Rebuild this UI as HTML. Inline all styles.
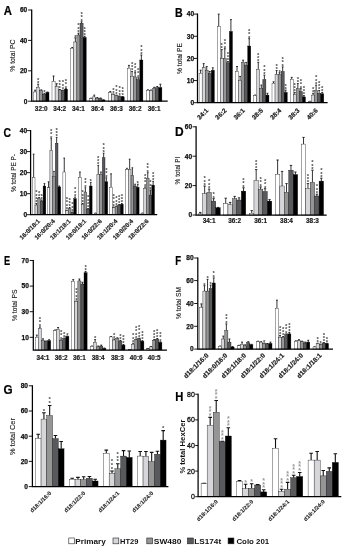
<!DOCTYPE html>
<html lang="en"><head><meta charset="utf-8"><title>Figure</title>
<style>
html,body{margin:0;padding:0;background:#fff}
body{width:346px;height:550px;overflow:hidden}
svg{display:block;font-family:"Liberation Sans",Arial,sans-serif}
.pl{font-size:12.2px;font-weight:bold;fill:#000;stroke:#000;stroke-width:.2}
.b{stroke:#000;stroke-width:.35}
.eb2{stroke:#111;stroke-width:1.1;fill:none}
.eb{stroke:#111;stroke-width:.85;fill:none}
.ax{stroke:#000;stroke-width:1.25;fill:none;stroke-linejoin:miter}
.tk{stroke:#000;stroke-width:.9;fill:none}
.tln{fill:#111;stroke:#111;stroke-width:.3}
.tl{font-weight:bold;fill:#111;stroke:#111;stroke-width:.25}
.xl2{font-weight:bold;fill:#222;stroke:#222;stroke-width:.1}
.xl{font-size:6.4px;font-weight:bold;fill:#222;stroke:#222;stroke-width:.2}
.yl{fill:#222;stroke:#222;stroke-width:.12}
.ylb{font-weight:bold;fill:#111}
.st3{font-size:7px;font-weight:bold;fill:#444;text-anchor:middle}
.st2{font-size:7px;font-weight:bold;fill:#999;text-anchor:middle}
.st{font-size:6px;font-weight:bold;fill:#444;text-anchor:middle}
.lg{stroke:#222;stroke-width:.6}
.lt{font-size:8px;font-weight:bold;fill:#111}
</style></head><body>
<svg width="346" height="550" viewBox="0 0 346 550">
<rect width="346" height="550" fill="#fff"/>
<g class="panel">
<text class="pl" transform="translate(3.72 14.7) scale(0.93 1)">A</text>
<path class="eb" d="M35.05 92V90.2M34.09 90.2H36.01"/>
<rect class="b" x="33.5" y="92" width="3.1" height="9.2" fill="#ffffff"/>
<path class="eb" d="M38.15 87.3V84.2M37.19 84.2H39.11"/>
<rect class="b" x="36.6" y="87.3" width="3.1" height="13.9" fill="#d6d6da"/>
<text class="st" x="38.15" y="85">*</text>
<text class="st" x="38.15" y="81.7">*</text>
<path class="eb" d="M41.25 90.6V89.9M40.29 89.9H42.21"/>
<rect class="b" x="39.7" y="90.6" width="3.1" height="10.6" fill="#949594"/>
<path class="eb" d="M44.35 94.2V93.3M43.39 93.3H45.31"/>
<rect class="b" x="42.8" y="94.2" width="3.1" height="7" fill="#58595c"/>
<text class="st" x="44.35" y="94.1">*</text>
<path class="eb" d="M47.45 92.4V92M46.49 92H48.41"/>
<rect class="b" x="45.9" y="92.4" width="3.1" height="8.8" fill="#000000"/>
<text class="xl" text-anchor="middle" x="41.25" y="111.1">32:0</text>
<path class="eb" d="M53.55 81.5V76M52.59 76H54.51"/>
<rect class="b" x="52" y="81.5" width="3.1" height="19.7" fill="#ffffff"/>
<path class="eb" d="M56.65 86.6V83.7M55.69 83.7H57.61"/>
<rect class="b" x="55.1" y="86.6" width="3.1" height="14.6" fill="#d6d6da"/>
<path class="eb" d="M59.75 89.9V89.5M58.79 89.5H60.71"/>
<rect class="b" x="58.2" y="89.9" width="3.1" height="11.3" fill="#949594"/>
<text class="st" x="59.75" y="90.3">*</text>
<text class="st" x="59.75" y="87">*</text>
<text class="st" x="59.75" y="83.7">*</text>
<path class="eb" d="M62.85 90.6V90.2M61.89 90.2H63.81"/>
<rect class="b" x="61.3" y="90.6" width="3.1" height="10.6" fill="#58595c"/>
<text class="st" x="62.85" y="91">*</text>
<text class="st" x="62.85" y="87.7">*</text>
<text class="st" x="62.85" y="84.4">*</text>
<path class="eb" d="M65.95 89.1V88.7M64.99 88.7H66.91"/>
<rect class="b" x="64.4" y="89.1" width="3.1" height="12.1" fill="#000000"/>
<text class="st" x="65.95" y="89.5">*</text>
<text class="st" x="65.95" y="86.2">*</text>
<text class="st" x="65.95" y="82.9">*</text>
<text class="xl" text-anchor="middle" x="59.75" y="111.1">34:2</text>
<path class="eb" d="M72.25 48.2V47.5M71.29 47.5H73.21"/>
<rect class="b" x="70.7" y="48.2" width="3.1" height="53" fill="#ffffff"/>
<path class="eb" d="M75.35 42V37.8M74.39 37.8H76.31"/>
<rect class="b" x="73.8" y="42" width="3.1" height="59.2" fill="#d6d6da"/>
<text class="st" x="75.35" y="38.6">*</text>
<path class="eb" d="M78.45 35V33.2M77.49 33.2H79.41"/>
<rect class="b" x="76.9" y="35" width="3.1" height="66.2" fill="#949594"/>
<text class="st" x="78.45" y="34">*</text>
<text class="st" x="78.45" y="30.7">*</text>
<text class="st" x="78.45" y="27.4">*</text>
<path class="eb" d="M81.55 23.2V21.8M80.59 21.8H82.51"/>
<rect class="b" x="80" y="23.2" width="3.1" height="78" fill="#58595c"/>
<text class="st" x="81.55" y="22.6">*</text>
<text class="st" x="81.55" y="19.3">*</text>
<text class="st" x="81.55" y="16">*</text>
<path class="eb" d="M84.65 37.4V36.3M83.69 36.3H85.61"/>
<rect class="b" x="83.1" y="37.4" width="3.1" height="63.8" fill="#000000"/>
<text class="st" x="84.65" y="37.1">*</text>
<text class="st" x="84.65" y="33.8">*</text>
<text class="st" x="84.65" y="30.5">*</text>
<text class="xl" text-anchor="middle" x="78.45" y="111.1">34:1</text>
<path class="eb" d="M91.15 98.7V98.2M90.19 98.2H92.11"/>
<rect class="b" x="89.6" y="98.7" width="3.1" height="2.5" fill="#ffffff"/>
<path class="eb" d="M94.25 96.9V95.1M93.29 95.1H95.21"/>
<rect class="b" x="92.7" y="96.9" width="3.1" height="4.3" fill="#d6d6da"/>
<path class="eb" d="M97.35 98.2V97.5M96.39 97.5H98.31"/>
<rect class="b" x="95.8" y="98.2" width="3.1" height="3" fill="#949594"/>
<path class="eb" d="M100.45 98.4V98M99.49 98H101.41"/>
<rect class="b" x="98.9" y="98.4" width="3.1" height="2.8" fill="#58595c"/>
<path class="eb" d="M103.55 100V99.8M102.59 99.8H104.51"/>
<rect class="b" x="102" y="100" width="3.1" height="1.2" fill="#000000"/>
<text class="xl" text-anchor="middle" x="97.35" y="111.1">36:4</text>
<path class="eb" d="M110.25 92.7V91.5M109.29 91.5H111.21"/>
<rect class="b" x="108.7" y="92.7" width="3.1" height="8.5" fill="#ffffff"/>
<path class="eb" d="M113.35 94.6V94M112.39 94H114.31"/>
<rect class="b" x="111.8" y="94.6" width="3.1" height="6.6" fill="#d6d6da"/>
<text class="st" x="113.35" y="94.8">*</text>
<text class="st" x="113.35" y="91.5">*</text>
<path class="eb" d="M116.45 95.6V95.2M115.49 95.2H117.41"/>
<rect class="b" x="114.9" y="95.6" width="3.1" height="5.6" fill="#949594"/>
<text class="st" x="116.45" y="96">*</text>
<text class="st" x="116.45" y="92.7">*</text>
<text class="st" x="116.45" y="89.4">*</text>
<path class="eb" d="M119.55 96.4V96M118.59 96H120.51"/>
<rect class="b" x="118" y="96.4" width="3.1" height="4.8" fill="#58595c"/>
<text class="st" x="119.55" y="96.8">*</text>
<text class="st" x="119.55" y="93.5">*</text>
<text class="st" x="119.55" y="90.2">*</text>
<path class="eb" d="M122.65 96.9V96.5M121.69 96.5H123.61"/>
<rect class="b" x="121.1" y="96.9" width="3.1" height="4.3" fill="#000000"/>
<text class="st" x="122.65" y="97.3">*</text>
<text class="st" x="122.65" y="94">*</text>
<text class="st" x="122.65" y="90.7">*</text>
<text class="xl" text-anchor="middle" x="116.45" y="111.1">36:3</text>
<path class="eb" d="M128.95 68.2V65.4M127.99 65.4H129.91"/>
<rect class="b" x="127.4" y="68.2" width="3.1" height="33" fill="#ffffff"/>
<path class="eb" d="M132.05 76.3V71.4M131.09 71.4H133.01"/>
<rect class="b" x="130.5" y="76.3" width="3.1" height="24.9" fill="#d6d6da"/>
<text class="st" x="132.05" y="72.2">*</text>
<text class="st" x="132.05" y="68.9">*</text>
<text class="st" x="132.05" y="65.6">*</text>
<path class="eb" d="M135.15 76.9V72.7M134.19 72.7H136.11"/>
<rect class="b" x="133.6" y="76.9" width="3.1" height="24.3" fill="#949594"/>
<text class="st" x="135.15" y="73.5">*</text>
<text class="st" x="135.15" y="70.2">*</text>
<text class="st" x="135.15" y="66.9">*</text>
<path class="eb" d="M138.25 79.6V77.8M137.29 77.8H139.21"/>
<rect class="b" x="136.7" y="79.6" width="3.1" height="21.6" fill="#58595c"/>
<text class="st" x="138.25" y="78.6">*</text>
<text class="st" x="138.25" y="75.3">*</text>
<text class="st" x="138.25" y="72">*</text>
<path class="eb" d="M141.35 60V55M140.39 55H142.31"/>
<rect class="b" x="139.8" y="60" width="3.1" height="41.2" fill="#000000"/>
<text class="st" x="141.35" y="55.8">*</text>
<text class="st" x="141.35" y="52.5">*</text>
<text class="st" x="141.35" y="49.2">*</text>
<text class="xl" text-anchor="middle" x="135.15" y="111.1">36:2</text>
<path class="eb" d="M147.95 90.2V89.8M146.99 89.8H148.91"/>
<rect class="b" x="146.4" y="90.2" width="3.1" height="11" fill="#ffffff"/>
<path class="eb" d="M151.05 90.5V90M150.09 90H152.01"/>
<rect class="b" x="149.5" y="90.5" width="3.1" height="10.7" fill="#d6d6da"/>
<path class="eb" d="M154.15 88.7V87.3M153.19 87.3H155.11"/>
<rect class="b" x="152.6" y="88.7" width="3.1" height="12.5" fill="#949594"/>
<path class="eb" d="M157.25 87.8V86.5M156.29 86.5H158.21"/>
<rect class="b" x="155.7" y="87.8" width="3.1" height="13.4" fill="#58595c"/>
<path class="eb" d="M160.35 87.5V84.2M159.39 84.2H161.31"/>
<rect class="b" x="158.8" y="87.5" width="3.1" height="13.7" fill="#000000"/>
<text class="xl" text-anchor="middle" x="154.15" y="111.1">36:1</text>
<path class="ax" d="M31.7 9.5V101.2H167.7"/>
<path class="tk" d="M28.1 10H31.7"/>
<text class="tl" style="font-size:6.6px" text-anchor="end" x="27.3" y="12.38">60</text>
<path class="tk" d="M28.1 40.4H31.7"/>
<text class="tl" style="font-size:6.6px" text-anchor="end" x="27.3" y="42.78">40</text>
<path class="tk" d="M28.1 70.8H31.7"/>
<text class="tl" style="font-size:6.6px" text-anchor="end" x="27.3" y="73.18">20</text>
<path class="tk" d="M28.1 101.2H31.7"/>
<text class="tl" style="font-size:6.6px" text-anchor="end" x="27.3" y="103.58">0</text>
<text class="yl" style="font-size:6.9px" textLength="32.3" lengthAdjust="spacingAndGlyphs" transform="translate(14.98 71.85) rotate(-90)">% total PC</text>
</g>
<g class="panel">
<text class="pl" transform="translate(174.99 16.7) scale(0.87 1)">B</text>
<path class="eb" d="M200.62 73.3V70.2M199.68 70.2H201.57"/>
<rect class="b" x="199.1" y="73.3" width="3.05" height="29.4" fill="#ffffff"/>
<path class="eb" d="M203.68 67.8V63.6M202.73 63.6H204.62"/>
<rect class="b" x="202.15" y="67.8" width="3.05" height="34.9" fill="#d6d6da"/>
<path class="eb" d="M206.72 70.2V66.5M205.78 66.5H207.67"/>
<rect class="b" x="205.2" y="70.2" width="3.05" height="32.5" fill="#949594"/>
<path class="eb" d="M209.78 73.3V71.5M208.83 71.5H210.72"/>
<rect class="b" x="208.25" y="73.3" width="3.05" height="29.4" fill="#58595c"/>
<path class="eb" d="M212.82 70.2V67.8M211.88 67.8H213.77"/>
<rect class="b" x="211.3" y="70.2" width="3.05" height="32.5" fill="#000000"/>
<text class="xl" style="font-size:6.4px" text-anchor="end" transform="translate(208.82 110.9) rotate(-45)">34:1</text>
<path class="eb" d="M218.72 26.5V14.1M217.78 14.1H219.67"/>
<rect class="b" x="217.2" y="26.5" width="3.05" height="76.2" fill="#ffffff"/>
<path class="eb" d="M221.78 58.7V49.6M220.83 49.6H222.72"/>
<rect class="b" x="220.25" y="58.7" width="3.05" height="44" fill="#d6d6da"/>
<text class="st" x="221.78" y="50.4">*</text>
<text class="st" x="221.78" y="47.1">*</text>
<path class="eb" d="M224.82 58.7V48.7M223.88 48.7H225.77"/>
<rect class="b" x="223.3" y="58.7" width="3.05" height="44" fill="#949594"/>
<text class="st" x="224.82" y="49.5">*</text>
<text class="st" x="224.82" y="46.2">*</text>
<text class="st" x="224.82" y="42.9">*</text>
<path class="eb" d="M227.88 62.9V61.5M226.93 61.5H228.82"/>
<rect class="b" x="226.35" y="62.9" width="3.05" height="39.8" fill="#58595c"/>
<text class="st" x="227.88" y="62.3">*</text>
<text class="st" x="227.88" y="59">*</text>
<text class="st" x="227.88" y="55.7">*</text>
<path class="eb" d="M230.92 31.4V19.6M229.98 19.6H231.87"/>
<rect class="b" x="229.4" y="31.4" width="3.05" height="71.3" fill="#000000"/>
<text class="xl" style="font-size:6.4px" text-anchor="end" transform="translate(226.92 110.9) rotate(-45)">36:2</text>
<path class="eb" d="M237.03 71.5V66.5M236.08 66.5H237.97"/>
<rect class="b" x="235.5" y="71.5" width="3.05" height="31.2" fill="#ffffff"/>
<path class="eb" d="M240.08 80.6V76.4M239.13 76.4H241.02"/>
<rect class="b" x="238.55" y="80.6" width="3.05" height="22.1" fill="#d6d6da"/>
<path class="eb" d="M243.12 62.4V60.2M242.18 60.2H244.07"/>
<rect class="b" x="241.6" y="62.4" width="3.05" height="40.3" fill="#949594"/>
<path class="eb" d="M246.18 65.1V62.4M245.23 62.4H247.12"/>
<rect class="b" x="244.65" y="65.1" width="3.05" height="37.6" fill="#58595c"/>
<path class="eb" d="M249.22 46V38.7M248.28 38.7H250.17"/>
<rect class="b" x="247.7" y="46" width="3.05" height="56.7" fill="#000000"/>
<text class="st" x="249.22" y="39.5">*</text>
<text class="st" x="249.22" y="36.2">*</text>
<text class="st" x="249.22" y="32.9">*</text>
<text class="xl" style="font-size:6.4px" text-anchor="end" transform="translate(245.22 110.9) rotate(-45)">36:1</text>
<path class="eb" d="M255.22 95.6V95M254.28 95H256.17"/>
<rect class="b" x="253.7" y="95.6" width="3.05" height="7.1" fill="#ffffff"/>
<path class="eb" d="M258.27 69.2V62.3M257.33 62.3H259.22"/>
<rect class="b" x="256.75" y="69.2" width="3.05" height="33.5" fill="#d6d6da"/>
<text class="st" x="258.27" y="63.1">*</text>
<text class="st" x="258.27" y="59.8">*</text>
<text class="st" x="258.27" y="56.5">*</text>
<path class="eb" d="M261.32 88.4V85.1M260.38 85.1H262.27"/>
<rect class="b" x="259.8" y="88.4" width="3.05" height="14.3" fill="#949594"/>
<path class="eb" d="M264.37 79.6V75.1M263.43 75.1H265.32"/>
<rect class="b" x="262.85" y="79.6" width="3.05" height="23.1" fill="#58595c"/>
<text class="st" x="264.37" y="75.9">*</text>
<text class="st" x="264.37" y="72.6">*</text>
<text class="st" x="264.37" y="69.3">*</text>
<path class="eb" d="M267.42 95.1V93.3M266.48 93.3H268.37"/>
<rect class="b" x="265.9" y="95.1" width="3.05" height="7.6" fill="#000000"/>
<text class="xl" style="font-size:6.4px" text-anchor="end" transform="translate(263.43 110.9) rotate(-45)">38:5</text>
<path class="eb" d="M273.52 83.3V81.8M272.58 81.8H274.47"/>
<rect class="b" x="272" y="83.3" width="3.05" height="19.4" fill="#ffffff"/>
<path class="eb" d="M276.57 74.5V70.5M275.63 70.5H277.52"/>
<rect class="b" x="275.05" y="74.5" width="3.05" height="28.2" fill="#d6d6da"/>
<text class="st" x="276.57" y="71.3">*</text>
<text class="st" x="276.57" y="68">*</text>
<path class="eb" d="M279.62 74.5V72.7M278.68 72.7H280.57"/>
<rect class="b" x="278.1" y="74.5" width="3.05" height="28.2" fill="#949594"/>
<text class="st" x="279.62" y="73.5">*</text>
<path class="eb" d="M282.67 71.4V66.9M281.73 66.9H283.62"/>
<rect class="b" x="281.15" y="71.4" width="3.05" height="31.3" fill="#58595c"/>
<text class="st" x="282.67" y="67.7">*</text>
<text class="st" x="282.67" y="64.4">*</text>
<text class="st" x="282.67" y="61.1">*</text>
<path class="eb" d="M285.72 92.4V90.2M284.78 90.2H286.67"/>
<rect class="b" x="284.2" y="92.4" width="3.05" height="10.3" fill="#000000"/>
<text class="st" x="285.72" y="91">*</text>
<text class="st" x="285.72" y="87.7">*</text>
<text class="xl" style="font-size:6.4px" text-anchor="end" transform="translate(281.73 110.9) rotate(-45)">38:4</text>
<path class="eb" d="M291.72 79.3V77.4M290.78 77.4H292.67"/>
<rect class="b" x="290.2" y="79.3" width="3.05" height="23.4" fill="#ffffff"/>
<path class="eb" d="M294.77 94.6V92.4M293.83 92.4H295.72"/>
<rect class="b" x="293.25" y="94.6" width="3.05" height="8.1" fill="#d6d6da"/>
<text class="st" x="294.77" y="93.2">*</text>
<text class="st" x="294.77" y="89.9">*</text>
<text class="st" x="294.77" y="86.6">*</text>
<path class="eb" d="M297.82 88.7V83.6M296.88 83.6H298.77"/>
<rect class="b" x="296.3" y="88.7" width="3.05" height="14" fill="#949594"/>
<text class="st" x="297.82" y="84.4">*</text>
<text class="st" x="297.82" y="81.1">*</text>
<path class="eb" d="M300.87 91.5V88.7M299.93 88.7H301.82"/>
<rect class="b" x="299.35" y="91.5" width="3.05" height="11.2" fill="#58595c"/>
<text class="st" x="300.87" y="89.5">*</text>
<text class="st" x="300.87" y="86.2">*</text>
<text class="st" x="300.87" y="82.9">*</text>
<path class="eb" d="M303.92 96.9V95.6M302.98 95.6H304.87"/>
<rect class="b" x="302.4" y="96.9" width="3.05" height="5.8" fill="#000000"/>
<text class="st" x="303.92" y="96.4">*</text>
<text class="st" x="303.92" y="93.1">*</text>
<text class="st" x="303.92" y="89.8">*</text>
<text class="xl" style="font-size:6.4px" text-anchor="end" transform="translate(299.93 110.9) rotate(-45)">38:3</text>
<path class="eb" d="M310.02 101.5V101.3M309.08 101.3H310.97"/>
<rect class="b" x="308.5" y="101.5" width="3.05" height="1.2" fill="#ffffff"/>
<path class="eb" d="M313.07 95.1V93.3M312.13 93.3H314.02"/>
<rect class="b" x="311.55" y="95.1" width="3.05" height="7.6" fill="#d6d6da"/>
<text class="st" x="313.07" y="94.1">*</text>
<text class="st" x="313.07" y="90.8">*</text>
<path class="eb" d="M316.12 90.5V85.1M315.18 85.1H317.07"/>
<rect class="b" x="314.6" y="90.5" width="3.05" height="12.2" fill="#949594"/>
<text class="st" x="316.12" y="85.9">*</text>
<text class="st" x="316.12" y="82.6">*</text>
<text class="st" x="316.12" y="79.3">*</text>
<path class="eb" d="M319.17 93.3V90.5M318.23 90.5H320.12"/>
<rect class="b" x="317.65" y="93.3" width="3.05" height="9.4" fill="#58595c"/>
<text class="st" x="319.17" y="91.3">*</text>
<text class="st" x="319.17" y="88">*</text>
<text class="st" x="319.17" y="84.7">*</text>
<path class="eb" d="M322.22 93.8V92.4M321.28 92.4H323.17"/>
<rect class="b" x="320.7" y="93.8" width="3.05" height="8.9" fill="#000000"/>
<text class="st" x="322.22" y="93.2">*</text>
<text class="st" x="322.22" y="89.9">*</text>
<text class="xl" style="font-size:6.4px" text-anchor="end" transform="translate(318.23 110.9) rotate(-45)">40:6</text>
<path class="ax" d="M197.5 13.6V102.7H327.6"/>
<path class="tk" d="M193.9 14.1H197.5"/>
<text class="tl" style="font-size:6.6px" text-anchor="end" x="194.1" y="16.48">40</text>
<path class="tk" d="M193.9 36.25H197.5"/>
<text class="tl" style="font-size:6.6px" text-anchor="end" x="194.1" y="38.63">30</text>
<path class="tk" d="M193.9 58.4H197.5"/>
<text class="tl" style="font-size:6.6px" text-anchor="end" x="194.1" y="60.78">20</text>
<path class="tk" d="M193.9 80.55H197.5"/>
<text class="tl" style="font-size:6.6px" text-anchor="end" x="194.1" y="82.93">10</text>
<path class="tk" d="M193.9 102.7H197.5"/>
<text class="tl" style="font-size:6.6px" text-anchor="end" x="194.1" y="105.08">0</text>
<text class="yl" style="font-size:6.7px" textLength="30.8" lengthAdjust="spacingAndGlyphs" transform="translate(182.01 73.9) rotate(-90)">% total PE</text>
</g>
<g class="panel">
<text class="pl" transform="translate(3.57 136.9) scale(0.85 1)">C</text>
<path class="eb" d="M33.65 177.4V154.1M32.81 154.1H34.49"/>
<rect class="b" x="32.3" y="177.4" width="2.7" height="37.3" fill="#ffffff"/>
<path class="eb" d="M36.35 205.1V203.5M35.51 203.5H37.19"/>
<rect class="b" x="35" y="205.1" width="2.7" height="9.6" fill="#d6d6da"/>
<text class="st" x="36.35" y="204.3">*</text>
<text class="st" x="36.35" y="201">*</text>
<text class="st" x="36.35" y="197.7">*</text>
<text class="st" x="36.35" y="194.4">*</text>
<path class="eb" d="M39.05 198.7V197.5M38.21 197.5H39.89"/>
<rect class="b" x="37.7" y="198.7" width="2.7" height="16" fill="#949594"/>
<text class="st" x="39.05" y="198.3">*</text>
<text class="st" x="39.05" y="195">*</text>
<path class="eb" d="M41.75 201.1V200M40.91 200H42.59"/>
<rect class="b" x="40.4" y="201.1" width="2.7" height="13.6" fill="#58595c"/>
<text class="st" x="41.75" y="200.8">*</text>
<text class="st" x="41.75" y="197.5">*</text>
<path class="eb" d="M44.45 186V183.6M43.61 183.6H45.29"/>
<rect class="b" x="43.1" y="186" width="2.7" height="28.7" fill="#000000"/>
<text class="xl" style="font-size:6.1px" text-anchor="end" transform="translate(40.45 221.6) rotate(-45)">16:0/18:1</text>
<path class="eb" d="M48.55 187.8V181.8M47.71 181.8H49.39"/>
<rect class="b" x="47.2" y="187.8" width="2.7" height="26.9" fill="#ffffff"/>
<path class="eb" d="M51.25 150.5V138.7M50.41 138.7H52.09"/>
<rect class="b" x="49.9" y="150.5" width="2.7" height="64.2" fill="#d6d6da"/>
<text class="st" x="51.25" y="139.5">*</text>
<text class="st" x="51.25" y="136.2">*</text>
<text class="st" x="51.25" y="132.9">*</text>
<path class="eb" d="M53.95 176.3V171.4M53.11 171.4H54.79"/>
<rect class="b" x="52.6" y="176.3" width="2.7" height="38.4" fill="#949594"/>
<path class="eb" d="M56.65 143.2V137.4M55.81 137.4H57.49"/>
<rect class="b" x="55.3" y="143.2" width="2.7" height="71.5" fill="#58595c"/>
<text class="st" x="56.65" y="138.2">*</text>
<text class="st" x="56.65" y="134.9">*</text>
<text class="st" x="56.65" y="131.6">*</text>
<path class="eb" d="M59.35 186.9V186M58.51 186H60.19"/>
<rect class="b" x="58" y="186.9" width="2.7" height="27.8" fill="#000000"/>
<text class="xl" style="font-size:6.1px" text-anchor="end" transform="translate(55.35 221.6) rotate(-45)">16:0/20:4</text>
<path class="eb" d="M64.25 172V158.1M63.41 158.1H65.09"/>
<rect class="b" x="62.9" y="172" width="2.7" height="42.7" fill="#ffffff"/>
<path class="eb" d="M66.95 210.6V210.2M66.11 210.2H67.79"/>
<rect class="b" x="65.6" y="210.6" width="2.7" height="4.1" fill="#d6d6da"/>
<text class="st" x="66.95" y="211">*</text>
<text class="st" x="66.95" y="207.7">*</text>
<text class="st" x="66.95" y="204.4">*</text>
<text class="st" x="66.95" y="201.1">*</text>
<path class="eb" d="M69.65 208.8V207.5M68.81 207.5H70.49"/>
<rect class="b" x="68.3" y="208.8" width="2.7" height="5.9" fill="#949594"/>
<text class="st" x="69.65" y="208.3">*</text>
<text class="st" x="69.65" y="205">*</text>
<text class="st" x="69.65" y="201.7">*</text>
<path class="eb" d="M72.35 212.4V212M71.51 212H73.19"/>
<rect class="b" x="71" y="212.4" width="2.7" height="2.3" fill="#58595c"/>
<text class="st" x="72.35" y="212.8">*</text>
<text class="st" x="72.35" y="209.5">*</text>
<text class="st" x="72.35" y="206.2">*</text>
<path class="eb" d="M75.05 198.7V197M74.21 197H75.89"/>
<rect class="b" x="73.7" y="198.7" width="2.7" height="16" fill="#000000"/>
<text class="st" x="75.05" y="197.8">*</text>
<text class="st" x="75.05" y="194.5">*</text>
<text class="st" x="75.05" y="191.2">*</text>
<text class="xl" style="font-size:6.1px" text-anchor="end" transform="translate(71.05 221.6) rotate(-45)">18:1/18:1</text>
<path class="eb" d="M79.95 177.4V172M79.11 172H80.79"/>
<rect class="b" x="78.6" y="177.4" width="2.7" height="37.3" fill="#ffffff"/>
<path class="eb" d="M82.65 204.2V203.5M81.81 203.5H83.49"/>
<rect class="b" x="81.3" y="204.2" width="2.7" height="10.5" fill="#d6d6da"/>
<text class="st" x="82.65" y="204.3">*</text>
<text class="st" x="82.65" y="201">*</text>
<text class="st" x="82.65" y="197.7">*</text>
<text class="st" x="82.65" y="194.4">*</text>
<path class="eb" d="M85.35 192V187.8M84.51 187.8H86.19"/>
<rect class="b" x="84" y="192" width="2.7" height="22.7" fill="#949594"/>
<text class="st" x="85.35" y="188.6">*</text>
<text class="st" x="85.35" y="185.3">*</text>
<text class="st" x="85.35" y="182">*</text>
<path class="eb" d="M88.05 209.1V208.5M87.21 208.5H88.89"/>
<rect class="b" x="86.7" y="209.1" width="2.7" height="5.6" fill="#58595c"/>
<text class="st" x="88.05" y="209.3">*</text>
<text class="st" x="88.05" y="206">*</text>
<text class="st" x="88.05" y="202.7">*</text>
<text class="st" x="88.05" y="199.4">*</text>
<path class="eb" d="M90.75 186V182.4M89.91 182.4H91.59"/>
<rect class="b" x="89.4" y="186" width="2.7" height="28.7" fill="#000000"/>
<text class="st" x="90.75" y="183.2">*</text>
<text class="xl" style="font-size:6.1px" text-anchor="end" transform="translate(86.75 221.6) rotate(-45)">18:0/18:1</text>
<path class="eb" d="M95.55 213.3V213M94.71 213H96.39"/>
<rect class="b" x="94.2" y="213.3" width="2.7" height="1.4" fill="#ffffff"/>
<path class="eb" d="M98.25 174.2V165.4M97.41 165.4H99.09"/>
<rect class="b" x="96.9" y="174.2" width="2.7" height="40.5" fill="#d6d6da"/>
<text class="st" x="98.25" y="166.2">*</text>
<text class="st" x="98.25" y="162.9">*</text>
<text class="st" x="98.25" y="159.6">*</text>
<path class="eb" d="M100.95 174.2V172M100.11 172H101.79"/>
<rect class="b" x="99.6" y="174.2" width="2.7" height="40.5" fill="#949594"/>
<path class="eb" d="M103.65 157.8V153.2M102.81 153.2H104.49"/>
<rect class="b" x="102.3" y="157.8" width="2.7" height="56.9" fill="#58595c"/>
<text class="st" x="103.65" y="154">*</text>
<text class="st" x="103.65" y="150.7">*</text>
<text class="st" x="103.65" y="147.4">*</text>
<path class="eb" d="M106.35 181.8V177.8M105.51 177.8H107.19"/>
<rect class="b" x="105" y="181.8" width="2.7" height="32.9" fill="#000000"/>
<text class="st" x="106.35" y="178.6">*</text>
<text class="st" x="106.35" y="175.3">*</text>
<text class="st" x="106.35" y="172">*</text>
<text class="xl" style="font-size:6.1px" text-anchor="end" transform="translate(102.35 221.6) rotate(-45)">16:0/22:6</text>
<path class="eb" d="M111.05 187.3V173.8M110.21 173.8H111.89"/>
<rect class="b" x="109.7" y="187.3" width="2.7" height="27.4" fill="#ffffff"/>
<path class="eb" d="M113.75 207.8V207M112.91 207H114.59"/>
<rect class="b" x="112.4" y="207.8" width="2.7" height="6.9" fill="#d6d6da"/>
<text class="st" x="113.75" y="207.8">*</text>
<text class="st" x="113.75" y="204.5">*</text>
<text class="st" x="113.75" y="201.2">*</text>
<text class="st" x="113.75" y="197.9">*</text>
<path class="eb" d="M116.45 206.6V206M115.61 206H117.29"/>
<rect class="b" x="115.1" y="206.6" width="2.7" height="8.1" fill="#949594"/>
<text class="st" x="116.45" y="206.8">*</text>
<text class="st" x="116.45" y="203.5">*</text>
<text class="st" x="116.45" y="200.2">*</text>
<path class="eb" d="M119.15 205.1V204.5M118.31 204.5H119.99"/>
<rect class="b" x="117.8" y="205.1" width="2.7" height="9.6" fill="#58595c"/>
<text class="st" x="119.15" y="205.3">*</text>
<text class="st" x="119.15" y="202">*</text>
<text class="st" x="119.15" y="198.7">*</text>
<path class="eb" d="M121.85 204.2V203.5M121.01 203.5H122.69"/>
<rect class="b" x="120.5" y="204.2" width="2.7" height="10.5" fill="#000000"/>
<text class="st" x="121.85" y="204.3">*</text>
<text class="st" x="121.85" y="201">*</text>
<text class="st" x="121.85" y="197.7">*</text>
<text class="xl" style="font-size:6.1px" text-anchor="end" transform="translate(117.85 221.6) rotate(-45)">18:1/20:4</text>
<path class="eb" d="M126.95 169.6V168.3M126.11 168.3H127.79"/>
<rect class="b" x="125.6" y="169.6" width="2.7" height="45.1" fill="#ffffff"/>
<path class="eb" d="M129.65 169.6V159.2M128.81 159.2H130.49"/>
<rect class="b" x="128.3" y="169.6" width="2.7" height="45.1" fill="#d6d6da"/>
<path class="eb" d="M132.35 175.6V167.8M131.51 167.8H133.19"/>
<rect class="b" x="131" y="175.6" width="2.7" height="39.1" fill="#949594"/>
<path class="eb" d="M135.05 186V184.2M134.21 184.2H135.89"/>
<rect class="b" x="133.7" y="186" width="2.7" height="28.7" fill="#58595c"/>
<path class="eb" d="M137.75 187.3V184.2M136.91 184.2H138.59"/>
<rect class="b" x="136.4" y="187.3" width="2.7" height="27.4" fill="#000000"/>
<text class="st" x="137.75" y="185">*</text>
<text class="xl" style="font-size:6.1px" text-anchor="end" transform="translate(133.75 221.6) rotate(-45)">18:0/20:4</text>
<path class="eb" d="M142.35 213.3V213M141.51 213H143.19"/>
<rect class="b" x="141" y="213.3" width="2.7" height="1.4" fill="#ffffff"/>
<path class="eb" d="M145.05 188.7V186.9M144.21 186.9H145.89"/>
<rect class="b" x="143.7" y="188.7" width="2.7" height="26" fill="#d6d6da"/>
<text class="st" x="145.05" y="187.7">*</text>
<text class="st" x="145.05" y="184.4">*</text>
<text class="st" x="145.05" y="181.1">*</text>
<text class="st" x="145.05" y="177.8">*</text>
<path class="eb" d="M147.75 178.2V172.7M146.91 172.7H148.59"/>
<rect class="b" x="146.4" y="178.2" width="2.7" height="36.5" fill="#949594"/>
<text class="st" x="147.75" y="173.5">*</text>
<text class="st" x="147.75" y="170.2">*</text>
<text class="st" x="147.75" y="166.9">*</text>
<path class="eb" d="M150.45 195.1V190M149.61 190H151.29"/>
<rect class="b" x="149.1" y="195.1" width="2.7" height="19.6" fill="#58595c"/>
<text class="st" x="150.45" y="190.8">*</text>
<text class="st" x="150.45" y="187.5">*</text>
<text class="st" x="150.45" y="184.2">*</text>
<path class="eb" d="M153.15 185.1V181.4M152.31 181.4H153.99"/>
<rect class="b" x="151.8" y="185.1" width="2.7" height="29.6" fill="#000000"/>
<text class="st" x="153.15" y="182.2">*</text>
<text class="st" x="153.15" y="178.9">*</text>
<text class="st" x="153.15" y="175.6">*</text>
<text class="xl" style="font-size:6.1px" text-anchor="end" transform="translate(149.15 221.6) rotate(-45)">18:0/22:6</text>
<path class="ax" d="M30.6 130.1V214.7H157.2"/>
<path class="tk" d="M27 130.6H30.6"/>
<text class="tl" style="font-size:6.6px" text-anchor="end" x="27.2" y="132.98">40</text>
<path class="tk" d="M27 151.6H30.6"/>
<text class="tl" style="font-size:6.6px" text-anchor="end" x="27.2" y="153.98">30</text>
<path class="tk" d="M27 172.65H30.6"/>
<text class="tl" style="font-size:6.6px" text-anchor="end" x="27.2" y="175.03">20</text>
<path class="tk" d="M27 193.7H30.6"/>
<text class="tl" style="font-size:6.6px" text-anchor="end" x="27.2" y="196.08">10</text>
<path class="tk" d="M27 214.7H30.6"/>
<text class="tl" style="font-size:6.6px" text-anchor="end" x="27.2" y="217.08">0</text>
<text class="yl" style="font-size:6.5px" textLength="37.8" lengthAdjust="spacingAndGlyphs" transform="translate(15.54 191.9) rotate(-90)">% total PE P-</text>
</g>
<g class="panel">
<text class="pl" transform="translate(175.1 136.45) scale(0.98 1)">D</text>
<path class="eb" d="M200.22 213.9V212.4M199.03 212.4H201.42"/>
<rect class="b" x="198" y="213.9" width="4.45" height="1.1" fill="#ffffff"/>
<path class="eb" d="M204.67 193.8V186M203.47 186H205.87"/>
<rect class="b" x="202.45" y="193.8" width="4.45" height="21.2" fill="#d6d6da"/>
<text class="st" x="204.67" y="186.8">*</text>
<text class="st" x="204.67" y="183.5">*</text>
<text class="st" x="204.67" y="180.2">*</text>
<path class="eb" d="M209.12 192.4V189.1M207.93 189.1H210.32"/>
<rect class="b" x="206.9" y="192.4" width="4.45" height="22.6" fill="#949594"/>
<text class="st" x="209.12" y="189.9">*</text>
<text class="st" x="209.12" y="186.6">*</text>
<text class="st" x="209.12" y="183.3">*</text>
<path class="eb" d="M213.57 201.1V198.7M212.38 198.7H214.77"/>
<rect class="b" x="211.35" y="201.1" width="4.45" height="13.9" fill="#58595c"/>
<text class="st" x="213.57" y="199.5">*</text>
<text class="st" x="213.57" y="196.2">*</text>
<path class="eb" d="M218.03 207.8V207.4M216.83 207.4H219.22"/>
<rect class="b" x="215.8" y="207.8" width="4.45" height="7.2" fill="#000000"/>
<text class="xl" text-anchor="middle" x="209.12" y="223">34:1</text>
<path class="eb" d="M225.72 203.7V198.2M224.53 198.2H226.92"/>
<rect class="b" x="223.5" y="203.7" width="4.45" height="11.3" fill="#ffffff"/>
<path class="eb" d="M230.17 204.8V202.4M228.97 202.4H231.37"/>
<rect class="b" x="227.95" y="204.8" width="4.45" height="10.2" fill="#d6d6da"/>
<path class="eb" d="M234.62 198.7V196.4M233.43 196.4H235.82"/>
<rect class="b" x="232.4" y="198.7" width="4.45" height="16.3" fill="#949594"/>
<path class="eb" d="M239.07 200V197.8M237.88 197.8H240.27"/>
<rect class="b" x="236.85" y="200" width="4.45" height="15" fill="#58595c"/>
<path class="eb" d="M243.53 191.1V187.8M242.33 187.8H244.72"/>
<rect class="b" x="241.3" y="191.1" width="4.45" height="23.9" fill="#000000"/>
<text class="st" x="243.53" y="188.6">*</text>
<text class="st" x="243.53" y="185.3">*</text>
<text class="st" x="243.53" y="182">*</text>
<text class="xl" text-anchor="middle" x="234.62" y="223">36:2</text>
<path class="eb" d="M251.72 213.3V210.6M250.53 210.6H252.92"/>
<rect class="b" x="249.5" y="213.3" width="4.45" height="1.7" fill="#ffffff"/>
<path class="eb" d="M256.18 180.5V169.6M254.98 169.6H257.38"/>
<rect class="b" x="253.95" y="180.5" width="4.45" height="34.5" fill="#d6d6da"/>
<text class="st" x="256.18" y="170.4">*</text>
<text class="st" x="256.18" y="167.1">*</text>
<text class="st" x="256.18" y="163.8">*</text>
<path class="eb" d="M260.62 189.1V186.9M259.43 186.9H261.82"/>
<rect class="b" x="258.4" y="189.1" width="4.45" height="25.9" fill="#949594"/>
<text class="st" x="260.62" y="187.7">*</text>
<text class="st" x="260.62" y="184.4">*</text>
<text class="st" x="260.62" y="181.1">*</text>
<path class="eb" d="M265.08 191.5V188.7M263.88 188.7H266.28"/>
<rect class="b" x="262.85" y="191.5" width="4.45" height="23.5" fill="#58595c"/>
<text class="st" x="265.08" y="189.5">*</text>
<text class="st" x="265.08" y="186.2">*</text>
<text class="st" x="265.08" y="182.9">*</text>
<path class="eb" d="M269.53 201.1V199.6M268.33 199.6H270.73"/>
<rect class="b" x="267.3" y="201.1" width="4.45" height="13.9" fill="#000000"/>
<text class="xl" text-anchor="middle" x="260.62" y="223">36:1</text>
<path class="eb" d="M277.62 174.2V160M276.43 160H278.82"/>
<rect class="b" x="275.4" y="174.2" width="4.45" height="40.8" fill="#ffffff"/>
<path class="eb" d="M282.07 186V171.4M280.88 171.4H283.27"/>
<rect class="b" x="279.85" y="186" width="4.45" height="29" fill="#d6d6da"/>
<path class="eb" d="M286.52 192.4V183.6M285.32 183.6H287.72"/>
<rect class="b" x="284.3" y="192.4" width="4.45" height="22.6" fill="#949594"/>
<path class="eb" d="M290.98 170.2V165.4M289.78 165.4H292.18"/>
<rect class="b" x="288.75" y="170.2" width="4.45" height="44.8" fill="#58595c"/>
<path class="eb" d="M295.43 174.5V172M294.23 172H296.62"/>
<rect class="b" x="293.2" y="174.5" width="4.45" height="40.5" fill="#000000"/>
<text class="xl" text-anchor="middle" x="286.52" y="223">38:4</text>
<path class="eb" d="M303.53 144.1V137.4M302.33 137.4H304.73"/>
<rect class="b" x="301.3" y="144.1" width="4.45" height="70.9" fill="#ffffff"/>
<path class="eb" d="M307.98 188.7V183.6M306.78 183.6H309.18"/>
<rect class="b" x="305.75" y="188.7" width="4.45" height="26.3" fill="#d6d6da"/>
<text class="st" x="307.98" y="184.4">*</text>
<text class="st" x="307.98" y="181.1">*</text>
<text class="st" x="307.98" y="177.8">*</text>
<path class="eb" d="M312.43 182.4V170.2M311.23 170.2H313.62"/>
<rect class="b" x="310.2" y="182.4" width="4.45" height="32.6" fill="#949594"/>
<text class="st" x="312.43" y="171">*</text>
<text class="st" x="312.43" y="167.7">*</text>
<text class="st" x="312.43" y="164.4">*</text>
<path class="eb" d="M316.88 196V194.2M315.68 194.2H318.08"/>
<rect class="b" x="314.65" y="196" width="4.45" height="19" fill="#58595c"/>
<text class="st" x="316.88" y="195">*</text>
<text class="st" x="316.88" y="191.7">*</text>
<text class="st" x="316.88" y="188.4">*</text>
<path class="eb" d="M321.33 181.1V178.2M320.13 178.2H322.53"/>
<rect class="b" x="319.1" y="181.1" width="4.45" height="33.9" fill="#000000"/>
<text class="st" x="321.33" y="179">*</text>
<text class="st" x="321.33" y="175.7">*</text>
<text class="st" x="321.33" y="172.4">*</text>
<text class="xl" text-anchor="middle" x="312.43" y="223">38:3</text>
<path class="ax" d="M196.1 126.3V215H326.7"/>
<path class="tk" d="M192.5 126.8H196.1"/>
<text class="tl" style="font-size:6.6px" text-anchor="end" x="192.2" y="129.18">60</text>
<path class="tk" d="M192.5 156.2H196.1"/>
<text class="tl" style="font-size:6.6px" text-anchor="end" x="192.2" y="158.58">40</text>
<path class="tk" d="M192.5 185.6H196.1"/>
<text class="tl" style="font-size:6.6px" text-anchor="end" x="192.2" y="187.98">20</text>
<path class="tk" d="M192.5 215H196.1"/>
<text class="tl" style="font-size:6.6px" text-anchor="end" x="192.2" y="217.38">0</text>
<text class="yl" style="font-size:6.6px" textLength="27.8" lengthAdjust="spacingAndGlyphs" transform="translate(179.88 184.4) rotate(-90)">% total PI</text>
</g>
<g class="panel">
<text class="pl" transform="translate(3.88 265.45) scale(0.76 1)">E</text>
<path class="eb" d="M36.84 337.3V335.1M35.89 335.1H37.79"/>
<rect class="b" x="35.3" y="337.3" width="3.08" height="12.7" fill="#ffffff"/>
<path class="eb" d="M39.92 328.7V326.9M38.97 326.9H40.87"/>
<rect class="b" x="38.38" y="328.7" width="3.08" height="21.3" fill="#d6d6da"/>
<text class="st" x="39.92" y="327.7">*</text>
<text class="st" x="39.92" y="324.4">*</text>
<text class="st" x="39.92" y="321.1">*</text>
<path class="eb" d="M43 340.2V338.8M42.05 338.8H43.95"/>
<rect class="b" x="41.46" y="340.2" width="3.08" height="9.8" fill="#949594"/>
<path class="eb" d="M46.08 341.5V341M45.13 341H47.03"/>
<rect class="b" x="44.54" y="341.5" width="3.08" height="8.5" fill="#58595c"/>
<path class="eb" d="M49.16 340.6V339.7M48.21 339.7H50.11"/>
<rect class="b" x="47.62" y="340.6" width="3.08" height="9.4" fill="#000000"/>
<text class="xl" text-anchor="middle" x="43" y="360.1">34:1</text>
<path class="eb" d="M55.04 330.6V330M54.09 330H55.99"/>
<rect class="b" x="53.5" y="330.6" width="3.08" height="19.4" fill="#ffffff"/>
<path class="eb" d="M58.12 329.3V327.5M57.17 327.5H59.07"/>
<rect class="b" x="56.58" y="329.3" width="3.08" height="20.7" fill="#d6d6da"/>
<path class="eb" d="M61.2 340.2V339.8M60.25 339.8H62.15"/>
<rect class="b" x="59.66" y="340.2" width="3.08" height="9.8" fill="#949594"/>
<text class="st" x="61.2" y="340.6">*</text>
<text class="st" x="61.2" y="337.3">*</text>
<text class="st" x="61.2" y="334">*</text>
<path class="eb" d="M64.28 338.4V338M63.33 338H65.23"/>
<rect class="b" x="62.74" y="338.4" width="3.08" height="11.6" fill="#58595c"/>
<text class="st" x="64.28" y="338.8">*</text>
<text class="st" x="64.28" y="335.5">*</text>
<path class="eb" d="M67.36 336.4V336M66.41 336H68.31"/>
<rect class="b" x="65.82" y="336.4" width="3.08" height="13.6" fill="#000000"/>
<text class="st" x="67.36" y="336.8">*</text>
<text class="xl" text-anchor="middle" x="61.2" y="360.1">36:2</text>
<path class="eb" d="M73.24 281.4V279.6M72.29 279.6H74.19"/>
<rect class="b" x="71.7" y="281.4" width="3.08" height="68.6" fill="#ffffff"/>
<path class="eb" d="M76.32 301.4V301M75.37 301H77.27"/>
<rect class="b" x="74.78" y="301.4" width="3.08" height="48.6" fill="#d6d6da"/>
<text class="st" x="76.32" y="301.8">*</text>
<text class="st" x="76.32" y="298.5">*</text>
<text class="st" x="76.32" y="295.2">*</text>
<text class="st" x="76.32" y="291.9">*</text>
<path class="eb" d="M79.4 280.9V279M78.45 279H80.35"/>
<rect class="b" x="77.86" y="280.9" width="3.08" height="69.1" fill="#949594"/>
<path class="eb" d="M82.48 284.1V282.3M81.53 282.3H83.43"/>
<rect class="b" x="80.94" y="284.1" width="3.08" height="65.9" fill="#58595c"/>
<path class="eb" d="M85.56 272.7V271.4M84.61 271.4H86.51"/>
<rect class="b" x="84.02" y="272.7" width="3.08" height="77.3" fill="#000000"/>
<text class="st" x="85.56" y="272.2">*</text>
<text class="st" x="85.56" y="268.9">*</text>
<text class="xl" text-anchor="middle" x="79.4" y="360.1">36:1</text>
<path class="eb" d="M92.04 346.4V346M91.09 346H92.99"/>
<rect class="b" x="90.5" y="346.4" width="3.08" height="3.6" fill="#ffffff"/>
<path class="eb" d="M95.12 342.4V339.6M94.17 339.6H96.07"/>
<rect class="b" x="93.58" y="342.4" width="3.08" height="7.6" fill="#d6d6da"/>
<text class="st" x="95.12" y="340.4">*</text>
<path class="eb" d="M98.2 346.9V346M97.25 346H99.15"/>
<rect class="b" x="96.66" y="346.9" width="3.08" height="3.1" fill="#949594"/>
<path class="eb" d="M101.28 346V345.1M100.33 345.1H102.23"/>
<rect class="b" x="99.74" y="346" width="3.08" height="4" fill="#58595c"/>
<path class="eb" d="M104.36 348.4V348M103.41 348H105.31"/>
<rect class="b" x="102.82" y="348.4" width="3.08" height="1.6" fill="#000000"/>
<text class="xl" text-anchor="middle" x="98.2" y="360.1">38:4</text>
<path class="eb" d="M111.14 336.9V336.5M110.19 336.5H112.09"/>
<rect class="b" x="109.6" y="336.9" width="3.08" height="13.1" fill="#ffffff"/>
<path class="eb" d="M114.22 340V339M113.27 339H115.17"/>
<rect class="b" x="112.68" y="340" width="3.08" height="10" fill="#d6d6da"/>
<text class="st" x="114.22" y="339.8">*</text>
<text class="st" x="114.22" y="336.5">*</text>
<path class="eb" d="M117.3 338.7V337.8M116.35 337.8H118.25"/>
<rect class="b" x="115.76" y="338.7" width="3.08" height="11.3" fill="#949594"/>
<path class="eb" d="M120.38 341V340.4M119.43 340.4H121.33"/>
<rect class="b" x="118.84" y="341" width="3.08" height="9" fill="#58595c"/>
<text class="st" x="120.38" y="341.2">*</text>
<text class="st" x="120.38" y="337.9">*</text>
<path class="eb" d="M123.46 345.1V344.5M122.51 344.5H124.41"/>
<rect class="b" x="121.92" y="345.1" width="3.08" height="4.9" fill="#000000"/>
<text class="st" x="123.46" y="345.3">*</text>
<text class="st" x="123.46" y="342">*</text>
<text class="st" x="123.46" y="338.7">*</text>
<text class="xl" text-anchor="middle" x="117.3" y="360.1">38:3</text>
<path class="eb" d="M130.04 349.6V349.6M129.09 349.6H130.99"/>
<rect class="b" x="128.5" y="349.6" width="3.08" height="0.4" fill="#ffffff"/>
<path class="eb" d="M133.12 344.2V343.2M132.17 343.2H134.07"/>
<rect class="b" x="131.58" y="344.2" width="3.08" height="5.8" fill="#d6d6da"/>
<text class="st" x="133.12" y="344">*</text>
<text class="st" x="133.12" y="340.7">*</text>
<text class="st" x="133.12" y="337.4">*</text>
<path class="eb" d="M136.2 339.8V339M135.25 339H137.15"/>
<rect class="b" x="134.66" y="339.8" width="3.08" height="10.2" fill="#949594"/>
<text class="st" x="136.2" y="339.8">*</text>
<text class="st" x="136.2" y="336.5">*</text>
<text class="st" x="136.2" y="333.2">*</text>
<text class="st" x="136.2" y="329.9">*</text>
<path class="eb" d="M139.28 338.8V338.2M138.33 338.2H140.23"/>
<rect class="b" x="137.74" y="338.8" width="3.08" height="11.2" fill="#58595c"/>
<text class="st" x="139.28" y="339">*</text>
<text class="st" x="139.28" y="335.7">*</text>
<text class="st" x="139.28" y="332.4">*</text>
<text class="st" x="139.28" y="329.1">*</text>
<path class="eb" d="M142.36 341.2V340.6M141.41 340.6H143.31"/>
<rect class="b" x="140.82" y="341.2" width="3.08" height="8.8" fill="#000000"/>
<text class="st" x="142.36" y="341.4">*</text>
<text class="st" x="142.36" y="338.1">*</text>
<text class="st" x="142.36" y="334.8">*</text>
<text class="xl" text-anchor="middle" x="136.2" y="360.1">40:6</text>
<path class="eb" d="M148.04 348.8V348.5M147.09 348.5H148.99"/>
<rect class="b" x="146.5" y="348.8" width="3.08" height="1.2" fill="#ffffff"/>
<path class="eb" d="M151.12 346.9V346.5M150.17 346.5H152.07"/>
<rect class="b" x="149.58" y="346.9" width="3.08" height="3.1" fill="#d6d6da"/>
<path class="eb" d="M154.2 340.2V339.5M153.25 339.5H155.15"/>
<rect class="b" x="152.66" y="340.2" width="3.08" height="9.8" fill="#949594"/>
<text class="st" x="154.2" y="340.3">*</text>
<text class="st" x="154.2" y="337">*</text>
<text class="st" x="154.2" y="333.7">*</text>
<path class="eb" d="M157.28 339.1V338.5M156.33 338.5H158.23"/>
<rect class="b" x="155.74" y="339.1" width="3.08" height="10.9" fill="#58595c"/>
<text class="st" x="157.28" y="339.3">*</text>
<text class="st" x="157.28" y="336">*</text>
<text class="st" x="157.28" y="332.7">*</text>
<path class="eb" d="M160.36 342.4V341.8M159.41 341.8H161.31"/>
<rect class="b" x="158.82" y="342.4" width="3.08" height="7.6" fill="#000000"/>
<text class="st" x="160.36" y="342.6">*</text>
<text class="st" x="160.36" y="339.3">*</text>
<text class="st" x="160.36" y="336">*</text>
<text class="xl" text-anchor="middle" x="154.2" y="360.1">40:5</text>
<path class="ax" d="M33.3 260V350H167"/>
<path class="tk" d="M29.7 260.5H33.3"/>
<text class="tl" style="font-size:6.6px" text-anchor="end" x="28.9" y="262.88">70</text>
<path class="tk" d="M29.7 286.1H33.3"/>
<text class="tl" style="font-size:6.6px" text-anchor="end" x="28.9" y="288.48">50</text>
<path class="tk" d="M29.7 311.7H33.3"/>
<text class="tl" style="font-size:6.6px" text-anchor="end" x="28.9" y="314.08">30</text>
<path class="tk" d="M29.7 337.3H33.3"/>
<text class="tl" style="font-size:6.6px" text-anchor="end" x="28.9" y="339.68">10</text>
<text class="yl" style="font-size:6.8px" textLength="31.3" lengthAdjust="spacingAndGlyphs" transform="translate(16.75 320.95) rotate(-90)">% total PS</text>
</g>
<g class="panel">
<text class="pl" transform="translate(175.35 265.15) scale(0.79 1)">F</text>
<path class="eb" d="M201.35 307.5V303.9M200.39 303.9H202.31"/>
<rect class="b" x="199.8" y="307.5" width="3.1" height="41.6" fill="#ffffff"/>
<path class="eb" d="M204.45 291.1V285.7M203.49 285.7H205.41"/>
<rect class="b" x="202.9" y="291.1" width="3.1" height="58" fill="#d6d6da"/>
<text class="st" x="204.45" y="286.5">*</text>
<path class="eb" d="M207.55 291.1V279.3M206.59 279.3H208.51"/>
<rect class="b" x="206" y="291.1" width="3.1" height="58" fill="#949594"/>
<text class="st" x="207.55" y="280.1">*</text>
<path class="eb" d="M210.65 288.4V285.1M209.69 285.1H211.61"/>
<rect class="b" x="209.1" y="288.4" width="3.1" height="60.7" fill="#58595c"/>
<text class="st" x="210.65" y="285.9">*</text>
<path class="eb" d="M213.75 283V277.9M212.79 277.9H214.71"/>
<rect class="b" x="212.2" y="283" width="3.1" height="66.1" fill="#000000"/>
<text class="st" x="213.75" y="278.7">*</text>
<text class="st" x="213.75" y="275.4">*</text>
<text class="xl" style="font-size:6.6px" text-anchor="end" transform="translate(209 355.9) rotate(-45)">d18:1/16:0</text>
<path class="eb" d="M220.15 346.3V346M219.19 346H221.11"/>
<rect class="b" x="218.6" y="346.3" width="3.1" height="2.8" fill="#ffffff"/>
<path class="eb" d="M223.25 339V336.1M222.29 336.1H224.21"/>
<rect class="b" x="221.7" y="339" width="3.1" height="10.1" fill="#d6d6da"/>
<path class="eb" d="M226.35 330.7V323.9M225.39 323.9H227.31"/>
<rect class="b" x="224.8" y="330.7" width="3.1" height="18.4" fill="#949594"/>
<text class="st" x="226.35" y="324.7">*</text>
<text class="st" x="226.35" y="321.4">*</text>
<text class="st" x="226.35" y="318.1">*</text>
<path class="eb" d="M229.45 342.1V339M228.49 339H230.41"/>
<rect class="b" x="227.9" y="342.1" width="3.1" height="7" fill="#58595c"/>
<path class="eb" d="M232.55 347V346.6M231.59 346.6H233.51"/>
<rect class="b" x="231" y="347" width="3.1" height="2.1" fill="#000000"/>
<text class="xl" style="font-size:6.6px" text-anchor="end" transform="translate(227.8 355.9) rotate(-45)">d18:0/16:0</text>
<path class="eb" d="M238.95 345.7V345.3M237.99 345.3H239.91"/>
<rect class="b" x="237.4" y="345.7" width="3.1" height="3.4" fill="#ffffff"/>
<path class="eb" d="M242.05 344.5V342.1M241.09 342.1H243.01"/>
<rect class="b" x="240.5" y="344.5" width="3.1" height="4.6" fill="#d6d6da"/>
<path class="eb" d="M245.15 345.7V344.8M244.19 344.8H246.11"/>
<rect class="b" x="243.6" y="345.7" width="3.1" height="3.4" fill="#949594"/>
<path class="eb" d="M248.25 342.6V341.7M247.29 341.7H249.21"/>
<rect class="b" x="246.7" y="342.6" width="3.1" height="6.5" fill="#58595c"/>
<path class="eb" d="M251.35 344.8V344.3M250.39 344.3H252.31"/>
<rect class="b" x="249.8" y="344.8" width="3.1" height="4.3" fill="#000000"/>
<text class="xl" style="font-size:6.6px" text-anchor="end" transform="translate(246.6 355.9) rotate(-45)">d18:1/18:0</text>
<path class="eb" d="M258.05 341.6V341.2M257.09 341.2H259.01"/>
<rect class="b" x="256.5" y="341.6" width="3.1" height="7.5" fill="#ffffff"/>
<path class="eb" d="M261.15 342.1V341.7M260.19 341.7H262.11"/>
<rect class="b" x="259.6" y="342.1" width="3.1" height="7" fill="#d6d6da"/>
<path class="eb" d="M264.25 343.4V343M263.29 343H265.21"/>
<rect class="b" x="262.7" y="343.4" width="3.1" height="5.7" fill="#949594"/>
<text class="st" x="264.25" y="343.8">*</text>
<path class="eb" d="M267.35 343.9V343.5M266.39 343.5H268.31"/>
<rect class="b" x="265.8" y="343.9" width="3.1" height="5.2" fill="#58595c"/>
<path class="eb" d="M270.45 343.4V342.1M269.49 342.1H271.41"/>
<rect class="b" x="268.9" y="343.4" width="3.1" height="5.7" fill="#000000"/>
<text class="xl" style="font-size:6.6px" text-anchor="end" transform="translate(265.7 355.9) rotate(-45)">d18:1/22:0</text>
<path class="eb" d="M276.95 308.4V300.2M275.99 300.2H277.91"/>
<rect class="b" x="275.4" y="308.4" width="3.1" height="40.7" fill="#ffffff"/>
<path class="eb" d="M280.05 337.5V335.4M279.09 335.4H281.01"/>
<rect class="b" x="278.5" y="337.5" width="3.1" height="11.6" fill="#d6d6da"/>
<text class="st" x="280.05" y="336.2">*</text>
<text class="st" x="280.05" y="332.9">*</text>
<text class="st" x="280.05" y="329.6">*</text>
<path class="eb" d="M283.15 337.2V336.5M282.19 336.5H284.11"/>
<rect class="b" x="281.6" y="337.2" width="3.1" height="11.9" fill="#949594"/>
<text class="st" x="283.15" y="337.3">*</text>
<text class="st" x="283.15" y="334">*</text>
<text class="st" x="283.15" y="330.7">*</text>
<path class="eb" d="M286.25 334.8V333.9M285.29 333.9H287.21"/>
<rect class="b" x="284.7" y="334.8" width="3.1" height="14.3" fill="#58595c"/>
<text class="st" x="286.25" y="334.7">*</text>
<text class="st" x="286.25" y="331.4">*</text>
<text class="st" x="286.25" y="328.1">*</text>
<path class="eb" d="M289.35 333.9V332.4M288.39 332.4H290.31"/>
<rect class="b" x="287.8" y="333.9" width="3.1" height="15.2" fill="#000000"/>
<text class="st" x="289.35" y="333.2">*</text>
<text class="st" x="289.35" y="329.9">*</text>
<text class="st" x="289.35" y="326.6">*</text>
<text class="xl" style="font-size:6.6px" text-anchor="end" transform="translate(284.6 355.9) rotate(-45)">d18:1/24:1</text>
<path class="eb" d="M295.85 341.2V340.8M294.89 340.8H296.81"/>
<rect class="b" x="294.3" y="341.2" width="3.1" height="7.9" fill="#ffffff"/>
<path class="eb" d="M298.95 340.8V339.7M297.99 339.7H299.91"/>
<rect class="b" x="297.4" y="340.8" width="3.1" height="8.3" fill="#d6d6da"/>
<path class="eb" d="M302.05 341.6V341.2M301.09 341.2H303.01"/>
<rect class="b" x="300.5" y="341.6" width="3.1" height="7.5" fill="#949594"/>
<path class="eb" d="M305.15 343V342.1M304.19 342.1H306.11"/>
<rect class="b" x="303.6" y="343" width="3.1" height="6.1" fill="#58595c"/>
<path class="eb" d="M308.25 342.1V340.3M307.29 340.3H309.21"/>
<rect class="b" x="306.7" y="342.1" width="3.1" height="7" fill="#000000"/>
<text class="xl" style="font-size:6.6px" text-anchor="end" transform="translate(303.5 355.9) rotate(-45)">d18:1/24:0</text>
<path class="eb" d="M314.55 347V346.8M313.59 346.8H315.51"/>
<rect class="b" x="313" y="347" width="3.1" height="2.1" fill="#ffffff"/>
<path class="eb" d="M317.65 343.6V343.2M316.69 343.2H318.61"/>
<rect class="b" x="316.1" y="343.6" width="3.1" height="5.5" fill="#d6d6da"/>
<text class="st" x="317.65" y="344">*</text>
<text class="st" x="317.65" y="340.7">*</text>
<path class="eb" d="M320.75 344.5V344.1M319.79 344.1H321.71"/>
<rect class="b" x="319.2" y="344.5" width="3.1" height="4.6" fill="#949594"/>
<text class="st" x="320.75" y="344.9">*</text>
<path class="eb" d="M323.85 343V342.6M322.89 342.6H324.81"/>
<rect class="b" x="322.3" y="343" width="3.1" height="6.1" fill="#58595c"/>
<text class="st" x="323.85" y="343.4">*</text>
<text class="st" x="323.85" y="340.1">*</text>
<text class="st" x="323.85" y="336.8">*</text>
<path class="eb" d="M326.95 343.6V343.2M325.99 343.2H327.91"/>
<rect class="b" x="325.4" y="343.6" width="3.1" height="5.5" fill="#000000"/>
<text class="st" x="326.95" y="344">*</text>
<text class="st" x="326.95" y="340.7">*</text>
<text class="xl" style="font-size:6.6px" text-anchor="end" transform="translate(322.2 355.9) rotate(-45)">d16:1/18:1</text>
<path class="ax" d="M197.8 257.5V349.1H333"/>
<path class="tk" d="M194.2 258H197.8"/>
<text class="tl" style="font-size:6.6px" text-anchor="end" x="193.7" y="260.38">80</text>
<path class="tk" d="M194.2 280.6H197.8"/>
<text class="tl" style="font-size:6.6px" text-anchor="end" x="193.7" y="282.98">60</text>
<path class="tk" d="M194.2 303.5H197.8"/>
<text class="tl" style="font-size:6.6px" text-anchor="end" x="193.7" y="305.88">40</text>
<path class="tk" d="M194.2 326.3H197.8"/>
<text class="tl" style="font-size:6.6px" text-anchor="end" x="193.7" y="328.68">20</text>
<path class="tk" d="M194.2 349.1H197.8"/>
<text class="tl" style="font-size:6.6px" text-anchor="end" x="193.7" y="351.48">0</text>
<text class="yl" style="font-size:6.8px" textLength="31.8" lengthAdjust="spacingAndGlyphs" transform="translate(181.25 318.9) rotate(-90)">% total SM</text>
</g>
<g class="panel">
<text class="pl" transform="translate(3.52 394.4) scale(0.96 1)">G</text>
<path class="eb2" d="M38.17 438.6V434.3M36.38 434.3H39.97"/>
<rect class="b" x="35.3" y="438.6" width="5.75" height="48" fill="#ffffff"/>
<path class="eb2" d="M43.92 419.1V412.8M42.12 412.8H45.72"/>
<rect class="b" x="41.05" y="419.1" width="5.75" height="67.5" fill="#d6d6da"/>
<text class="st" x="43.92" y="412.5">*</text>
<path class="eb2" d="M49.67 415.5V405.5M47.88 405.5H51.47"/>
<rect class="b" x="46.8" y="415.5" width="5.75" height="71.1" fill="#949594"/>
<text class="st" x="49.67" y="405.2">*</text>
<text class="st" x="49.67" y="401.4">*</text>
<path class="eb2" d="M55.42 438.6V435.5M53.62 435.5H57.22"/>
<rect class="b" x="52.55" y="438.6" width="5.75" height="48" fill="#58595c"/>
<path class="eb2" d="M61.17 448.8V441.5M59.38 441.5H62.97"/>
<rect class="b" x="58.3" y="448.8" width="5.75" height="37.8" fill="#000000"/>
<text class="xl2" style="font-size:5.6px" text-anchor="end" transform="translate(51.67 493.5) rotate(-45)">d18:1/16:0</text>
<path class="eb2" d="M72.17 479.2V478.3M70.38 478.3H73.97"/>
<rect class="b" x="69.3" y="479.2" width="5.75" height="7.4" fill="#ffffff"/>
<path class="eb2" d="M77.92 479.6V477.4M76.12 477.4H79.72"/>
<rect class="b" x="75.05" y="479.6" width="5.75" height="7" fill="#d6d6da"/>
<path class="eb2" d="M83.67 479.6V476.8M81.88 476.8H85.47"/>
<rect class="b" x="80.8" y="479.6" width="5.75" height="7" fill="#949594"/>
<path class="eb2" d="M89.42 478.3V476.5M87.62 476.5H91.22"/>
<rect class="b" x="86.55" y="478.3" width="5.75" height="8.3" fill="#58595c"/>
<path class="eb2" d="M95.17 481V479.2M93.38 479.2H96.97"/>
<rect class="b" x="92.3" y="481" width="5.75" height="5.6" fill="#000000"/>
<text class="xl2" style="font-size:5.6px" text-anchor="end" transform="translate(85.67 493.5) rotate(-45)">d18:1/22:0</text>
<path class="eb2" d="M106.28 453.2V450.1M104.48 450.1H108.08"/>
<rect class="b" x="103.4" y="453.2" width="5.75" height="33.4" fill="#ffffff"/>
<path class="eb2" d="M112.03 473.2V471M110.23 471H113.83"/>
<rect class="b" x="109.15" y="473.2" width="5.75" height="13.4" fill="#d6d6da"/>
<text class="st" x="112.03" y="470.7">*</text>
<text class="st" x="112.03" y="466.9">*</text>
<text class="st" x="112.03" y="463.1">*</text>
<path class="eb2" d="M117.78 468.8V463.7M115.98 463.7H119.58"/>
<rect class="b" x="114.9" y="468.8" width="5.75" height="17.8" fill="#949594"/>
<text class="st" x="117.78" y="463.4">*</text>
<text class="st" x="117.78" y="459.6">*</text>
<text class="st" x="117.78" y="455.8">*</text>
<path class="eb2" d="M123.53 456.1V450.6M121.73 450.6H125.33"/>
<rect class="b" x="120.65" y="456.1" width="5.75" height="30.5" fill="#58595c"/>
<path class="eb2" d="M129.28 457.4V451M127.48 451H131.08"/>
<rect class="b" x="126.4" y="457.4" width="5.75" height="29.2" fill="#000000"/>
<text class="xl2" style="font-size:5.6px" text-anchor="end" transform="translate(119.78 493.5) rotate(-45)">d18:1/24:1</text>
<path class="eb2" d="M140.18 456.1V451.5M138.38 451.5H141.98"/>
<rect class="b" x="137.3" y="456.1" width="5.75" height="30.5" fill="#ffffff"/>
<path class="eb2" d="M145.93 456.4V451.5M144.12 451.5H147.73"/>
<rect class="b" x="143.05" y="456.4" width="5.75" height="30.2" fill="#d6d6da"/>
<path class="eb2" d="M151.68 461.5V452.4M149.88 452.4H153.48"/>
<rect class="b" x="148.8" y="461.5" width="5.75" height="25.1" fill="#949594"/>
<path class="eb2" d="M157.43 454.3V451.3M155.62 451.3H159.23"/>
<rect class="b" x="154.55" y="454.3" width="5.75" height="32.3" fill="#58595c"/>
<path class="eb2" d="M163.18 440.1V430.6M161.38 430.6H164.98"/>
<rect class="b" x="160.3" y="440.1" width="5.75" height="46.5" fill="#000000"/>
<text class="st" x="163.18" y="430.3">*</text>
<text class="xl2" style="font-size:5.6px" text-anchor="end" transform="translate(153.68 493.5) rotate(-45)">d18:1/24:0</text>
<path class="ax" d="M32.4 385.3V486.6H168.4"/>
<path class="tk" d="M28.8 385.8H32.4"/>
<text class="tl" style="font-size:6.6px" text-anchor="end" x="28" y="388.18">80</text>
<path class="tk" d="M28.8 411H32.4"/>
<text class="tl" style="font-size:6.6px" text-anchor="end" x="28" y="413.38">60</text>
<path class="tk" d="M28.8 436.2H32.4"/>
<text class="tl" style="font-size:6.6px" text-anchor="end" x="28" y="438.58">40</text>
<path class="tk" d="M28.8 461.4H32.4"/>
<text class="tl" style="font-size:6.6px" text-anchor="end" x="28" y="463.78">20</text>
<path class="tk" d="M28.8 486.6H32.4"/>
<text class="tl" style="font-size:6.6px" text-anchor="end" x="28" y="488.98">0</text>
<text class="yl" style="font-size:7.3px" textLength="36.8" lengthAdjust="spacingAndGlyphs" transform="translate(15.43 454.9) rotate(-90)">% total Cer</text>
</g>
<g class="panel">
<text class="pl" transform="translate(175.15 401.45) scale(0.92 1)">H</text>
<path class="eb2" d="M204.12 483.7V483.3M202.32 483.3H205.93"/>
<rect class="b" x="201.1" y="483.7" width="6.05" height="13" fill="#ffffff"/>
<path class="eb2" d="M210.18 425.4V417.4M208.38 417.4H211.98"/>
<rect class="b" x="207.15" y="425.4" width="6.05" height="71.3" fill="#d6d6da"/>
<text class="st2" x="210.18" y="417.7">*</text>
<text class="st2" x="210.18" y="414.3">*</text>
<text class="st2" x="210.18" y="410.9">*</text>
<path class="eb2" d="M216.22 412.3V400.5M214.42 400.5H218.03"/>
<rect class="b" x="213.2" y="412.3" width="6.05" height="84.4" fill="#949594"/>
<text class="st2" x="216.22" y="400.8">*</text>
<text class="st2" x="216.22" y="397.4">*</text>
<text class="st2" x="216.22" y="394">*</text>
<path class="eb2" d="M222.28 441.8V441.3M220.47 441.3H224.08"/>
<rect class="b" x="219.25" y="441.8" width="6.05" height="54.9" fill="#58595c"/>
<text class="st2" x="222.28" y="441.6">*</text>
<text class="st2" x="222.28" y="438.2">*</text>
<text class="st2" x="222.28" y="434.8">*</text>
<path class="eb2" d="M228.32 436V427.8M226.52 427.8H230.12"/>
<rect class="b" x="225.3" y="436" width="6.05" height="60.7" fill="#000000"/>
<text class="st2" x="228.32" y="428.1">*</text>
<text class="st2" x="228.32" y="424.7">*</text>
<text class="st2" x="228.32" y="421.3">*</text>
<text class="xl2" style="font-size:5.6px" text-anchor="end" transform="translate(218.22 502.1) rotate(-45)">d18:1/16:0</text>
<path class="eb2" d="M239.53 481.4V480.6M237.72 480.6H241.33"/>
<rect class="b" x="236.5" y="481.4" width="6.05" height="15.3" fill="#ffffff"/>
<path class="eb2" d="M245.58 488.7V484.3M243.78 484.3H247.38"/>
<rect class="b" x="242.55" y="488.7" width="6.05" height="8" fill="#d6d6da"/>
<text class="st2" x="245.58" y="484.6">*</text>
<path class="eb2" d="M251.62 488.3V483.7M249.82 483.7H253.43"/>
<rect class="b" x="248.6" y="488.3" width="6.05" height="8.4" fill="#949594"/>
<text class="st2" x="251.62" y="484">*</text>
<path class="eb2" d="M257.68 485V484.6M255.88 484.6H259.48"/>
<rect class="b" x="254.65" y="485" width="6.05" height="11.7" fill="#58595c"/>
<path class="eb2" d="M263.72 491.9V489.8M261.92 489.8H265.52"/>
<rect class="b" x="260.7" y="491.9" width="6.05" height="4.8" fill="#000000"/>
<text class="st2" x="263.72" y="490.1">*</text>
<text class="st2" x="263.72" y="486.7">*</text>
<text class="st2" x="263.72" y="483.3">*</text>
<text class="xl2" style="font-size:5.6px" text-anchor="end" transform="translate(253.62 502.1) rotate(-45)">d18:1/22:0</text>
<path class="eb2" d="M275.52 448.2V438.8M273.72 438.8H277.32"/>
<rect class="b" x="272.5" y="448.2" width="6.05" height="48.5" fill="#ffffff"/>
<path class="eb2" d="M281.57 491.4V489.2M279.77 489.2H283.38"/>
<rect class="b" x="278.55" y="491.4" width="6.05" height="5.3" fill="#d6d6da"/>
<text class="st2" x="281.57" y="489.5">*</text>
<text class="st2" x="281.57" y="486.1">*</text>
<text class="st2" x="281.57" y="482.7">*</text>
<path class="eb2" d="M287.62 489.2V482.4M285.82 482.4H289.43"/>
<rect class="b" x="284.6" y="489.2" width="6.05" height="7.5" fill="#949594"/>
<text class="st2" x="287.62" y="482.7">*</text>
<text class="st2" x="287.62" y="479.3">*</text>
<text class="st2" x="287.62" y="475.9">*</text>
<path class="eb2" d="M293.67 477.7V475.2M291.87 475.2H295.47"/>
<rect class="b" x="290.65" y="477.7" width="6.05" height="19" fill="#58595c"/>
<text class="st2" x="293.67" y="475.5">*</text>
<text class="st2" x="293.67" y="472.1">*</text>
<text class="st2" x="293.67" y="468.7">*</text>
<path class="eb2" d="M299.72 476.5V472.5M297.92 472.5H301.52"/>
<rect class="b" x="296.7" y="476.5" width="6.05" height="20.2" fill="#000000"/>
<text class="st2" x="299.72" y="472.8">*</text>
<text class="st2" x="299.72" y="469.4">*</text>
<text class="st2" x="299.72" y="466">*</text>
<text class="xl2" style="font-size:5.6px" text-anchor="end" transform="translate(289.62 502.1) rotate(-45)">d18:1/24:1</text>
<path class="eb2" d="M311.12 460.1V453.3M309.32 453.3H312.93"/>
<rect class="b" x="308.1" y="460.1" width="6.05" height="36.6" fill="#ffffff"/>
<path class="eb2" d="M317.18 460.1V451.5M315.38 451.5H318.98"/>
<rect class="b" x="314.15" y="460.1" width="6.05" height="36.6" fill="#d6d6da"/>
<path class="eb2" d="M323.23 475.9V470.5M321.43 470.5H325.03"/>
<rect class="b" x="320.2" y="475.9" width="6.05" height="20.8" fill="#949594"/>
<path class="eb2" d="M329.27 471.4V467.9M327.47 467.9H331.07"/>
<rect class="b" x="326.25" y="471.4" width="6.05" height="25.3" fill="#58595c"/>
<path class="eb2" d="M335.32 462.4V453.7M333.52 453.7H337.12"/>
<rect class="b" x="332.3" y="462.4" width="6.05" height="34.3" fill="#000000"/>
<text class="xl2" style="font-size:5.6px" text-anchor="end" transform="translate(325.23 502.1) rotate(-45)">d18:1/24:0</text>
<path class="ax" d="M198.1 393.7V496.7H341.3"/>
<path class="tk" d="M195.2 394.2H198.1"/>
<text class="tln" style="font-size:7.0px" text-anchor="end" x="194.9" y="396.72">80</text>
<path class="tk" d="M195.2 419.9H198.1"/>
<text class="tln" style="font-size:7.0px" text-anchor="end" x="194.9" y="422.42">60</text>
<path class="tk" d="M195.2 445.5H198.1"/>
<text class="tln" style="font-size:7.0px" text-anchor="end" x="194.9" y="448.02">40</text>
<path class="tk" d="M195.2 471.1H198.1"/>
<text class="tln" style="font-size:7.0px" text-anchor="end" x="194.9" y="473.62">20</text>
<path class="tk" d="M195.2 496.7H198.1"/>
<text class="tln" style="font-size:7.0px" text-anchor="end" x="194.9" y="499.22">0</text>
<text class="ylb" style="font-size:7.6px" textLength="54" lengthAdjust="spacingAndGlyphs" transform="translate(184.94 473.6) rotate(-90)">% total HexCer</text>
</g>
<rect class="lg" x="68.8" y="538.0" width="5.8" height="5.8" fill="#ffffff"/>
<text class="lt" x="75.3" y="543.6" textLength="30.4" lengthAdjust="spacingAndGlyphs">Primary</text>
<rect class="lg" x="113" y="538.0" width="5.8" height="5.8" fill="#d6d6da"/>
<text class="lt" x="120" y="543.6" textLength="18.3" lengthAdjust="spacingAndGlyphs">HT29</text>
<rect class="lg" x="146.8" y="538.0" width="5.8" height="5.8" fill="#949594"/>
<text class="lt" x="153.8" y="543.6" textLength="27.6" lengthAdjust="spacingAndGlyphs">SW480</text>
<rect class="lg" x="187.5" y="538.0" width="5.8" height="5.8" fill="#58595c"/>
<text class="lt" x="194.3" y="543.6" textLength="26.8" lengthAdjust="spacingAndGlyphs">LS174t</text>
<rect class="lg" x="228.1" y="538.0" width="5.8" height="5.8" fill="#000000"/>
<text class="lt" x="236.4" y="543.6" textLength="32.8" lengthAdjust="spacingAndGlyphs">Colo 201</text>
</svg>
</body></html>
